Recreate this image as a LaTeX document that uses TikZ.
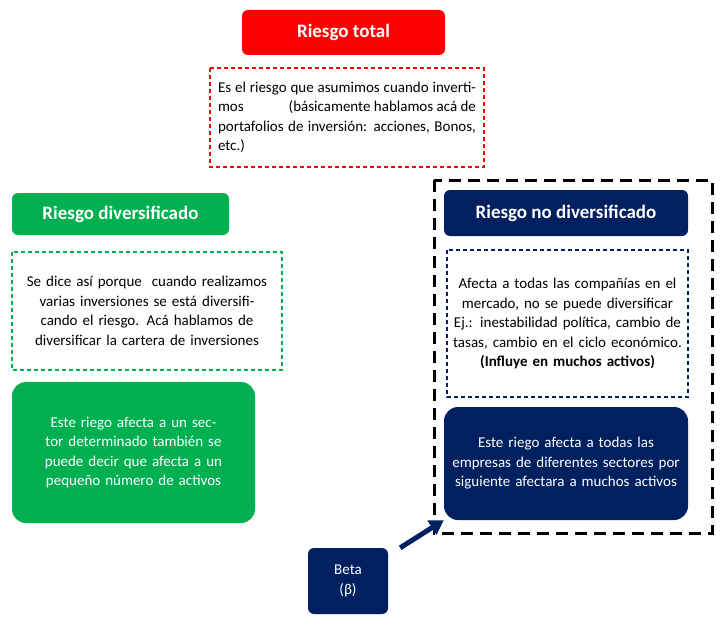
\documentclass[tikz,border=0pt]{standalone}
\usepackage{fontspec}
\usetikzlibrary{arrows.meta}
\setmainfont{Carlito}
\begin{document}
\begin{tikzpicture}[x=1pt,y=-1pt,
  every node/.style={font=\fontsize{15}{19.5}\selectfont, inner sep=0pt},
  title/.style={rounded corners=6pt, text=white, font=\fontsize{19}{22}\selectfont\bfseries},
  dbox/.style={dashed, line width=1.2pt, dash pattern=on 4pt off 3pt},
  fbox/.style={rounded corners=14pt, text=white, align=center}]
\definecolor{rred}{RGB}{255,0,0}
\definecolor{ggreen}{RGB}{0,176,80}
\definecolor{nnavy}{RGB}{0,32,96}
\useasboundingbox (0,0) rectangle (727,623);
% total
\node[title, fill=rred, minimum width=203pt, minimum height=45pt] (rt) at (343.5,32.5) {Riesgo total};
\draw[dbox, rred] (210,68) rectangle (484,167);
\node[text width=258pt, align=justify] (rtt) at (347,117.5) {Es el riesgo que asumimos cuando invertimos \hfill (básicamente hablamos acá de portafolios de inversión: acciones, Bonos, etc.)};
% diversificado
\node[title, fill=ggreen, minimum width=217pt, minimum height=42pt] (rd) at (120.5,214) {Riesgo diversificado};
\draw[dbox, ggreen] (12,252) rectangle (282,370);
\node[text width=250pt, align=center] (rdt) at (147,311) {Se dice así porque\ \ cuando realizamos varias inversiones se está diversificando el riesgo. Acá hablamos de diversificar la cartera de inversiones};
\node[fbox, fill=ggreen, minimum width=243pt, minimum height=141pt, text width=230pt] (rdf) at (133.5,452.5) {Este riego afecta a un sector determinado también se puede decir que afecta a un pequeño número de activos};
% no diversificado
\draw[line width=3pt, dash pattern=on 12pt off 7pt] (434,180) rectangle (712,533);
\node[title, fill=nnavy, minimum width=244pt, minimum height=46pt] (rn) at (566,213) {Riesgo no diversificado};
\draw[dbox, nnavy] (447,250) rectangle (688,397);
\node[text width=235pt, align=center] (rnt) at (567.5,323.5) {Afecta a todas las compañías en el mercado, no se puede diversificar Ej.: inestabilidad política, cambio de tasas, cambio en el ciclo económico. \textbf{(Influye en muchos activos)}};
\node[fbox, fill=nnavy, minimum width=244pt, minimum height=113pt, text width=230pt] (rnf) at (566,463.5) {Este riego afecta a todas las empresas de diferentes sectores por siguiente afectara a muchos activos};
% beta
\node[fill=nnavy, rounded corners=6pt, text=white, minimum width=80pt, minimum height=66pt, align=center] (beta) at (348,581) {Beta\\(β)};
\draw[nnavy, line width=5pt, -{Triangle[length=14pt,width=16pt]}] ([xshift=12pt]beta.north east) -- (rnf.south west);
\end{tikzpicture}
\end{document}
